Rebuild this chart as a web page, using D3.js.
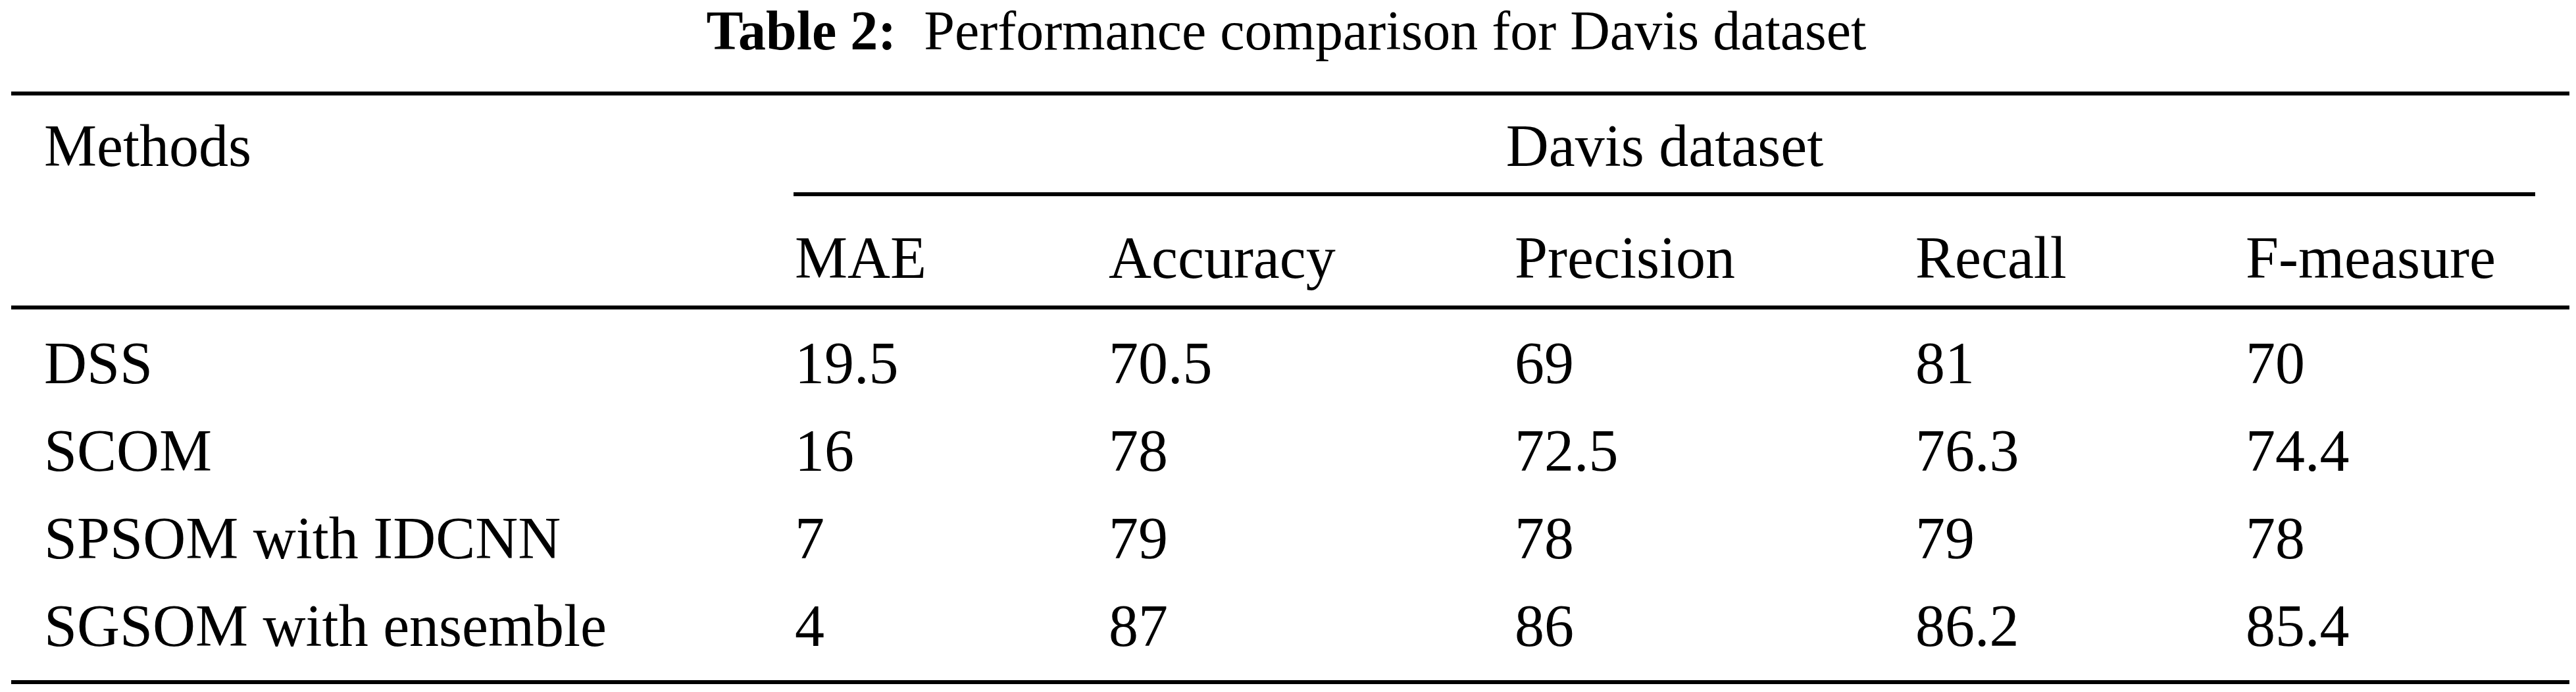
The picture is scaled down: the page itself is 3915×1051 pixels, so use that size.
<!DOCTYPE html>
<html>
<head>
<meta charset="utf-8">
<script src="https://cdn.jsdelivr.net/npm/d3@7"></script>
<style>
  body { margin: 0; background: #fff; }
  text { font-family: "Liberation Serif", "DejaVu Serif", serif; fill: #000; }
</style>
</head>
<body>
<svg id="chart"></svg>
<script>
const methods = ["DSS", "SCOM", "SPSOM with IDCNN", "SGSOM with ensemble"];
const metrics = ["MAE", "Accuracy", "Precision", "Recall", "F-measure"];
const mae = ["19.5", "16", "7", "4"];
const accuracy = ["70.5", "78", "79", "87"];
const precision = ["69", "72.5", "78", "86"];
const recall = ["81", "76.3", "79", "86.2"];
const fmeasure = ["70", "74.4", "78", "85.4"];
const columns = [mae, accuracy, precision, recall, fmeasure];

const width = 3915, height = 1051;
const svg = d3.select("#chart").attr("width", width).attr("height", height);

const fontSize = 90;
const colX = d3.scaleOrdinal().domain(["Methods", ...metrics])
    .range([67, 1208, 1685, 2302, 2911, 3413]);
const rowY = d3.scalePoint().domain(methods).range([582, 981]);

// title
const title = svg.append("text")
    .attr("x", 1955).attr("y", 75)
    .attr("text-anchor", "middle")
    .style("font-size", "84px");
title.append("tspan").style("font-weight", "bold").text("Table 2:");
title.append("tspan").text("\u00a0 Performance comparison for Davis dataset");

// rules
const rules = [
    { x1: 17, x2: 3905, y: 142 },
    { x1: 1206, x2: 3853, y: 295 },
    { x1: 17, x2: 3905, y: 467 },
    { x1: 17, x2: 3905, y: 1036 }
];
svg.append("g").selectAll("line").data(rules).enter().append("line")
    .attr("x1", d => d.x1).attr("x2", d => d.x2)
    .attr("y1", d => d.y).attr("y2", d => d.y)
    .attr("stroke", "#000").attr("stroke-width", 6);

// headers
svg.append("text").attr("x", colX("Methods")).attr("y", 252)
    .style("font-size", fontSize + "px").text("Methods");
svg.append("text").attr("x", 2530).attr("y", 252).attr("text-anchor", "middle")
    .style("font-size", fontSize + "px").text("Davis dataset");
svg.append("g").selectAll("text").data(metrics).enter().append("text")
    .attr("x", d => colX(d)).attr("y", 422)
    .style("font-size", fontSize + "px").text(d => d);

// body
svg.append("g").selectAll("text").data(methods).enter().append("text")
    .attr("x", colX("Methods")).attr("y", d => rowY(d))
    .style("font-size", fontSize + "px").text(d => d);

columns.forEach((col, ci) => {
    svg.append("g").selectAll("text").data(col).enter().append("text")
        .attr("x", colX(metrics[ci]))
        .attr("y", (d, i) => rowY(methods[i]))
        .style("font-size", fontSize + "px").text(d => d);
});
</script>
</body>
</html>
